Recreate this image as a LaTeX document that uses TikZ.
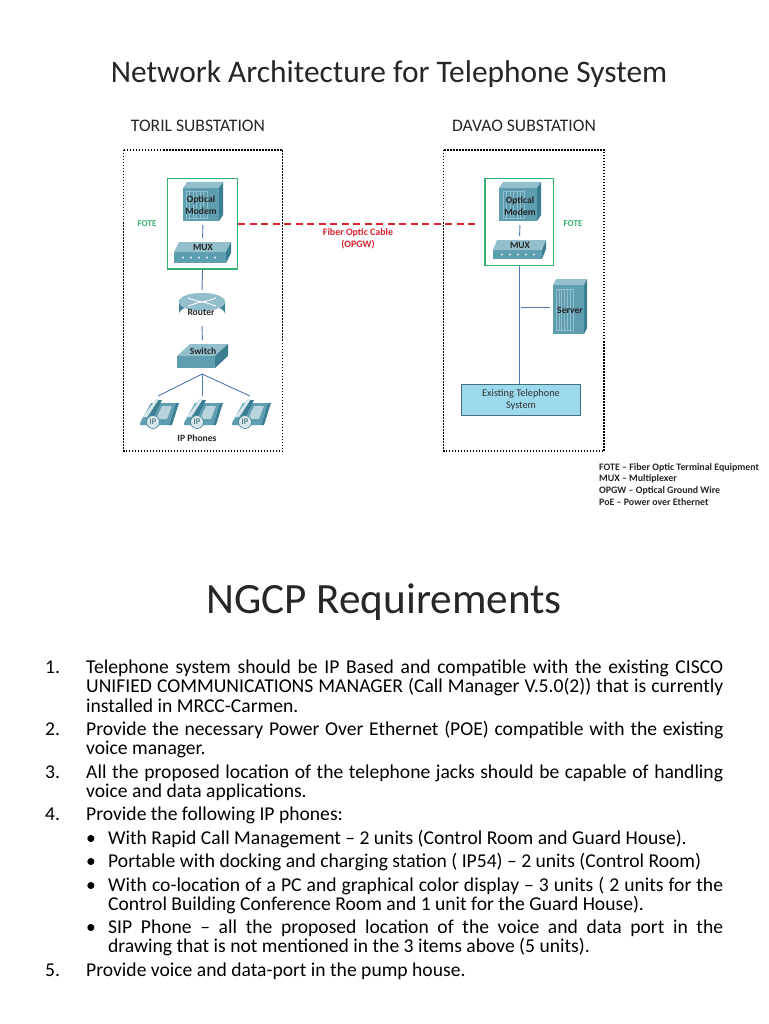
\documentclass[tikz,border=0pt]{standalone}
\usepackage{fontspec}
\setmainfont{Carlito}
\usepackage{xcolor}
\usepackage{tikz}
\usetikzlibrary{positioning,fit,calc}

\definecolor{iconfront}{HTML}{5E9EB0}
\definecolor{icontop}{HTML}{93BFCC}
\definecolor{iconside}{HTML}{3B7E92}
\definecolor{linkblue}{HTML}{4F78B4}
\definecolor{fotegreen}{HTML}{35B070}
\definecolor{fiberred}{HTML}{D8222E}
\definecolor{existfill}{HTML}{9DD9EC}
\definecolor{titlegray}{HTML}{262626}

\newcommand{\reqfont}{\fontsize{19.6}{19.2}\selectfont\lineskiplimit=-20pt\relax}

\tikzset{
	border/.style={draw=black, line width=1.6pt, dash pattern=on 1.5pt off 1.5pt},
	fotebox/.style={draw=fotegreen, line width=1.2pt},
	fotelabel/.style={text=fotegreen, font=\fontsize{9}{11}\selectfont\bfseries},
	sitetitle/.style={text=titlegray, font=\fontsize{17.6}{20}\selectfont},
	icontext/.style={font=\fontsize{9.6}{11.5}\selectfont\bfseries, align=center, inner sep=0pt, text=black!85},
	link/.style={draw=linkblue, line width=0.9pt},
	fiber/.style={draw=fiberred, line width=1.6pt, dash pattern=on 7pt off 4.5pt},
	reqtext/.style={anchor=north west, inner sep=0pt, align=justify, execute at begin node=\rule{0pt}{16pt}, font=\reqfont},
	reqnum/.style={anchor=north west, inner sep=0pt, execute at begin node=\rule{0pt}{16pt}, font=\reqfont},
	ipphone/.pic={
		\fill[iconfront] (-13,1)--(-2,-19)--(23,-19)--(16,3)--(-13,3)--cycle;
		\fill[iconside] (16,3)--(23,-19)--(26,-19)--(19,3)--cycle;
		\fill[iconside] (-6,-2)--(5,-22)--(9,-22)--(-1,-2)--cycle;
		\fill[white!75!iconfront] (-10,-5)--(3,-23)--(6,-23)--(-6,-5)--cycle;
		\fill[white!55!iconfront] (3,-3)--(9,-16)--(19,-16)--(14,-3)--cycle;
		\coordinate (-top) at (5,-26);
		\node[circle, draw=iconside, line width=0.6pt, fill=white!75!iconfront, minimum size=13pt, inner sep=0pt, text=iconside!70!black, font=\fontsize{8.5}{9}\selectfont] (-ip) at (0,0) {IP};
	}
}

% #1 name, #2 #3 front top left, #4 #5 front bottom right, #6 #7 depth
\newcommand{\boxicon}[7]{
	\fill[iconfront] (#2,#3) rectangle (#4,#5);
	\fill[icontop] (#2,#3)--(#2+#6,#3-#7)--(#4+#6,#3-#7)--(#4,#3)--cycle;
	\fill[iconside] (#4,#3)--(#4+#6,#3-#7)--(#4+#6,#5-#7)--(#4,#5)--cycle;
	\node[fit={(#2,#3-#7) (#4+#6,#5)}, inner sep=0pt] (#1) {};
}
% faint rack lines on the front of a box
\newcommand{\rackfront}[4]{
	\draw[icontop, line width=0.5pt] (#1,#2) rectangle (#3,#4);
	\foreach \i in {1,...,5} {
		\draw[icontop, line width=0.4pt] ($(#1,#2)!\i/6!(#3,#2)$)--($(#1,#4)!\i/6!(#3,#4)$);
	}
}
% row of five white dots
\newcommand{\muxdots}[3]{
	\foreach \i in {0,...,4} {
		\fill[white!85!iconfront] (#1+\i*#3,#2) circle (1.2pt);
	}
}

\begin{document}
\begin{tikzpicture}[x=1pt,y=-1pt]
	\useasboundingbox[fill=white] (0,0) rectangle (768,1024);

	\node[font=\fontsize{31.4}{36}\selectfont, text=titlegray] (title) at (389,74) {Network Architecture for Telephone System};
	\node[sitetitle] (toril) at (198,126) {TORIL SUBSTATION};
	\node[sitetitle] (davao) at (524,126) {DAVAO SUBSTATION};

	\draw[border] (123.5,150) rectangle (282.5,451);
	\draw[border] (443.5,150) rectangle (604,451);

	\node[fotebox, fit={(167.5,178.5) (237.5,269)}, inner sep=0pt] (foteA) {};
	\node[fotebox, fit={(485,178.5) (553.7,265.5)}, inner sep=0pt] (foteB) {};
	\node[fotelabel] (foteAlabel) at (147,224) {FOTE};
	\node[fotelabel] (foteBlabel) at (573,224) {FOTE};

	% toril side
	\boxicon{modemA}{183}{188}{219}{221}{4}{6}
	\rackfront{186}{191}{207}{218}
	\boxicon{muxA}{174}{252}{226}{263}{5}{10}
	\muxdots{183}{257.5}{8}
	\node[fit={(179,293) (225,323)}, inner sep=0pt] (routerA) {};
	\shade[left color=iconside, right color=iconside, middle color=white!40!icontop] (179,302) arc[start angle=180, end angle=360, x radius=23, y radius=9] -- (225,314) arc[start angle=360, end angle=180, x radius=23, y radius=9] -- cycle;
	\fill[icontop] (202,302) ellipse[x radius=23, y radius=9];
	\draw[white, line width=0.9pt] (188,298)--(197,301)--(207,303)--(216,306) (188,306)--(197,303)--(207,301)--(216,298);
	\boxicon{switchA}{177}{356}{215}{368}{13}{12}
	\coordinate (fan) at (202,374);
	\pic (phoneA) at (153,422) {ipphone};
	\pic (phoneB) at (197,422) {ipphone};
	\pic (phoneC) at (245,422) {ipphone};

	\node[icontext] (modemAtext) at (201,205) {Optical\\Modem};
	\node[icontext] (muxAtext) at (203,247) {MUX};
	\node[icontext] (routerAtext) at (201,312) {Router};
	\node[icontext] (switchAtext) at (203,351) {Switch};
	\node[icontext] (phonesA) at (197,438) {IP Phones};

	\draw[link, shorten <=4pt, shorten >=4pt] (modemA.south)--(muxA.north);
	\draw[link, shorten >=3pt] (foteA.south)--(routerA.north);
	\draw[link, shorten <=3pt, shorten >=4pt] (routerA.south)--(switchA.north);
	\draw[link] (fan)--(phoneA-top);
	\draw[link] (fan)--(phoneB-top);
	\draw[link] (fan)--(phoneC-top);

	% davao side
	\boxicon{modemB}{499}{188}{537}{221}{4}{6}
	\rackfront{503}{191}{524}{218}
	\boxicon{muxB}{493}{250}{542}{259}{4}{10}
	\muxdots{502}{254.5}{8}
	\boxicon{serverB}{553}{285}{584}{334}{3}{6}
	\rackfront{556}{289}{573}{330}
	\node[draw=iconfront!70!black, line width=1.4pt, fill=existfill, minimum width=119pt, minimum height=31pt, inner sep=0pt, align=center, text=black!80, font=\fontsize{10.3}{12}\selectfont] (existing) at (521,400) {Existing Telephone\\System};
	\coordinate (tap) at (521,307);

	\node[icontext] (modemBtext) at (520,206) {Optical\\Modem};
	\node[icontext] (muxBtext) at (520,245) {MUX};
	\node[icontext] (serverBtext) at (570,310) {Server};

	\draw[link, shorten <=4pt, shorten >=4pt] (modemB.south)--(muxB.north);
	\draw[link] (foteB.south)--(foteB.south |- existing.north);
	\draw[link, shorten >=3pt] (tap)--(serverB.west |- tap);

	\draw[fiber, shorten >=5pt] (foteA.east |- foteAlabel)--(foteB.west |- foteBlabel);
	\node[align=center, text=fiberred, font=\fontsize{9.9}{12}\selectfont\bfseries] (fiberlabel) at (358,239) {Fiber Optic Cable\\(OPGW)};

	\node[anchor=north west, inner sep=0pt, align=left, font=\fontsize{9.9}{11.7}\selectfont\bfseries, text=black!85] (legend) at (599,463) {FOTE -- Fiber Optic Terminal Equipment\\MUX -- Multiplexer\\OPGW -- Optical Ground Wire\\PoE -- Power over Ethernet};

	\node[font=\fontsize{43.2}{48}\selectfont, text=titlegray] (ngcp) at (384,602) {NGCP Requirements};

	% requirements list
	\node[reqnum] (numA) at (45,657.5) {1.};
	\node[reqtext, text width=637pt] (reqA) at (86,657.5) {Telephone system should be IP Based and compatible with the existing CISCO\linebreak UNIFIED COMMUNICATIONS MANAGER (Call Manager V.5.0(2)) that is currently\linebreak installed in MRCC-Carmen.};
	\node[reqnum] (numB) at (45,719.5) {2.};
	\node[reqtext, text width=637pt] (reqB) at (86,719.5) {Provide the necessary Power Over Ethernet (POE) compatible with the existing\linebreak voice manager.};
	\node[reqnum] (numC) at (45,762.5) {3.};
	\node[reqtext, text width=637pt] (reqC) at (86,762.5) {All the proposed location of the telephone jacks should be capable of handling\linebreak voice and data applications.};
	\node[reqnum] (numD) at (45,804.5) {4.};
	\node[reqtext, text width=637pt] (reqD) at (86,804.5) {Provide the following IP phones:};
	\node[reqnum] (dotA) at (86,828.5) {•};
	\node[reqtext, text width=615pt] (subA) at (108,828.5) {With Rapid Call Management -- 2 units (Control Room and Guard House).};
	\node[reqnum] (dotB) at (86,851.5) {•};
	\node[reqtext, text width=615pt] (subB) at (108,851.5) {Portable with docking and charging station ( IP54) -- 2 units (Control Room)};
	\node[reqnum] (dotC) at (86,875.5) {•};
	\node[reqtext, text width=615pt] (subC) at (108,875.5) {With co-location of a PC and graphical color display -- 3 units ( 2 units for the\linebreak Control Building Conference Room and 1 unit for the Guard House).};
	\node[reqnum] (dotD) at (86,917.5) {•};
	\node[reqtext, text width=615pt] (subD) at (108,917.5) {SIP Phone -- all the proposed location of the voice and data port in the\linebreak drawing that is not mentioned in the 3 items above (5 units).};
	\node[reqnum] (numE) at (45,960.5) {5.};
	\node[reqtext, text width=637pt] (reqE) at (86,960.5) {Provide voice and data-port in the pump house.};
\end{tikzpicture}
\end{document}
